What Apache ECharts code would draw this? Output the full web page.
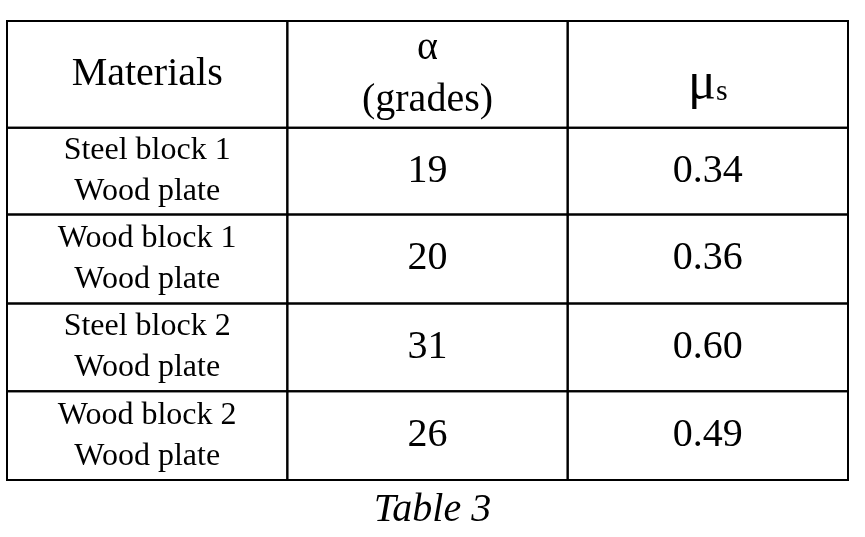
<!DOCTYPE html>
<html><head><meta charset="utf-8">
<script src="https://cdn.jsdelivr.net/npm/echarts@6/dist/echarts.min.js"></script>
<style>html,body{margin:0;padding:0;background:#fff}#c{width:865px;height:537px}</style>
</head><body><div id="c"></div>
<script>
var headers = ['Materials', 'α\n(grades)', '{m|μ}{s|s}'];
var materials = ['Steel block 1\nWood plate', 'Wood block 1\nWood plate', 'Steel block 2\nWood plate', 'Wood block 2\nWood plate'];
var alpha = ['19', '20', '31', '26'];
var mu = ['0.34', '0.36', '0.60', '0.49'];
var caption = 'Table 3';
var rowEdges = [0, 107, 194, 283, 371, 460];

var data = [];
headers.forEach(function (h, c) { data.push([c, 0, h, 'h']); });
for (var r = 0; r < materials.length; r++) {
  data.push([0, r + 1, materials[r], 'm']);
  data.push([1, r + 1, alpha[r], 'n']);
  data.push([2, r + 1, mu[r], 'n']);
}
var chart = echarts.init(document.getElementById('c'));
chart.setOption({
  animation: false,
  title: { text: caption, left: 'center', top: 485, textStyle: { fontFamily: 'Liberation Serif', fontStyle: 'italic', fontWeight: 'normal', fontSize: 40, color: '#000' } },
  grid: { left: 7, right: 17, top: 21, bottom: 57 },
  xAxis: { type: 'value', min: 0, max: 3, show: false },
  yAxis: { type: 'value', min: 0, max: 460, inverse: true, show: false },
  series: [{
    type: 'custom',
    data: data,
    renderItem: function (params, api) {
      var c = api.value(0), r = api.value(1);
      var d = data[params.dataIndex];
      var p0 = api.coord([c, rowEdges[r]]), p1 = api.coord([c + 1, rowEdges[r + 1]]);
      var fs = d[3] === 'm' ? 32 : 40, lh = d[3] === 'm' ? 41 : (d[3] === 'h' ? 52 : 44);
      var yOff = (d[2].indexOf('{m|') === 0) ? 10 : 0;
      return {
        type: 'group', children: [
          { type: 'rect', shape: { x: p0[0], y: p0[1], width: p1[0] - p0[0], height: p1[1] - p0[1] },
            style: { fill: 'none', stroke: '#000', lineWidth: 2 } },
          { type: 'text', x: (p0[0] + p1[0]) / 2, y: (p0[1] + p1[1]) / 2 + yOff,
            style: { text: d[2], align: 'center', verticalAlign: 'middle', fontFamily: 'Liberation Serif',
              fontSize: fs, lineHeight: lh, fill: '#000',
              rich: { m: { fontSize: 52, fontFamily: 'Liberation Serif', fill: '#000' }, s: { fontSize: 30, fontFamily: 'Liberation Serif', fill: '#000', padding: [16, 0, 0, 0] } } } }
        ]
      };
    }
  }]
});
</script></body></html>
